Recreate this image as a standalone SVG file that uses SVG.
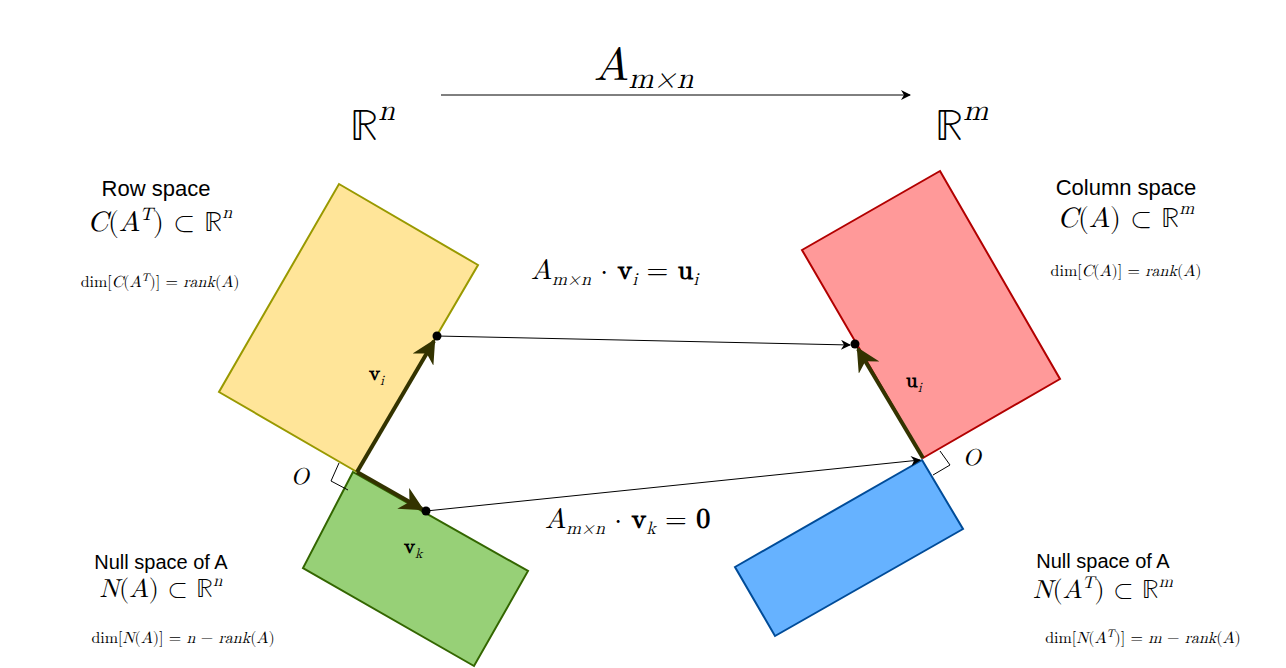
<svg xmlns="http://www.w3.org/2000/svg" width="1286" height="668" viewBox="0 0 1286 668">
<style>
.s{font-family:"Liberation Sans",Arial,sans-serif;fill:#000}
.m{font-family:"Latin Modern Math","DejaVu Serif","Liberation Serif",serif;fill:#000}
.i{font-style:italic}
.b{font-weight:bold}
.c{stroke:#000;stroke-width:1;fill:none}
.v{stroke:#333300;stroke-width:4;fill:none}
</style>
<defs>
<marker id="a" viewBox="0 0 10 10" refX="9" refY="5" markerWidth="12" markerHeight="10" markerUnits="userSpaceOnUse" orient="auto"><path d="M0,0L10,5L0,10L3,5Z" fill="#000"/></marker>
<marker id="t" viewBox="0 0 10 10" refX="9" refY="5" markerWidth="6" markerHeight="6" orient="auto"><path d="M0,0L10,5L0,10L3,5Z" fill="#333300"/></marker>
</defs>
<rect width="1286" height="668" fill="#fff"/>
<g id="rowspace"><polygon points="339,184 478,265 357,472 219,392" fill="#ffe599" stroke="#999900" stroke-width="2"/></g>
<g id="nullA"><polygon points="353,472 528,571 474,666 303,568" fill="#97d077" stroke="#336600" stroke-width="2"/></g>
<g id="colspace"><polygon points="940,171 1060,379 923,458 802,250" fill="#ff9999" stroke="#b20000" stroke-width="2"/></g>
<g id="nullAT"><polygon points="922,460 963,529 775,636 735,567" fill="#66b2ff" stroke="#004c99" stroke-width="2"/></g>
<g id="marks">
<polyline points="339,463 331,481 348,490" class="c"/>
<polyline points="940,451 950,465 933,475" class="c"/>
</g>
<g id="connectors">
<line x1="441" y1="95" x2="910" y2="95" class="c" marker-end="url(#a)"/>
<line x1="437" y1="336" x2="850" y2="345" class="c" marker-end="url(#a)"/>
<line x1="426" y1="511" x2="920" y2="460" class="c" marker-end="url(#a)"/>
<line x1="357" y1="472" x2="434" y2="341" class="v" marker-end="url(#t)"/>
<line x1="357" y1="472" x2="422" y2="509" class="v" marker-end="url(#t)"/>
<line x1="923" y1="458" x2="858" y2="349" class="v" marker-end="url(#t)"/>
<circle cx="437" cy="336" r="4.5"/>
<circle cx="426" cy="511" r="4.5"/>
<circle cx="855" cy="344" r="4.5"/>
</g>
<g id="labels">
<text x="594" y="80" class="m i" font-size="46">A<tspan font-size="30" dy="8">m×n</tspan></text>
<text x="350" y="140" class="m" font-size="44">ℝ<tspan class="i" font-size="30" dy="-20">n</tspan></text>
<text x="935" y="140" class="m" font-size="44">ℝ<tspan class="i" font-size="30" dy="-20">m</tspan></text>
<text x="156" y="196" class="s" font-size="22" text-anchor="middle">Row space</text>
<text x="160" y="231" class="m" font-size="28" text-anchor="middle"><tspan class="i">C</tspan>(<tspan class="i">A</tspan><tspan class="i" font-size="18" dy="-11">T</tspan><tspan dy="11">) ⊂ ℝ</tspan><tspan class="i" font-size="18" dy="-13">n</tspan></text>
<text x="160" y="287" class="m" font-size="16" text-anchor="middle">dim[<tspan class="i">C</tspan>(<tspan class="i">A</tspan><tspan class="i" font-size="11" dy="-6">T</tspan><tspan dy="6">)] = </tspan><tspan class="i">rank</tspan>(<tspan class="i">A</tspan>)</text>
<text x="1126" y="195" class="s" font-size="22" text-anchor="middle">Column space</text>
<text x="1126" y="227" class="m" font-size="28" text-anchor="middle"><tspan class="i">C</tspan>(<tspan class="i">A</tspan>) ⊂ ℝ<tspan class="i" font-size="18" dy="-13">m</tspan></text>
<text x="1126" y="276" class="m" font-size="16" text-anchor="middle">dim[<tspan class="i">C</tspan>(<tspan class="i">A</tspan>)] = <tspan class="i">rank</tspan>(<tspan class="i">A</tspan>)</text>
<text x="531" y="279" class="m" font-size="28"><tspan class="i">A</tspan><tspan class="i" font-size="18" dy="6">m×n</tspan><tspan dy="-6"> · </tspan><tspan class="b">v</tspan><tspan class="i" font-size="18" dy="6">i</tspan><tspan dy="-6"> = </tspan><tspan class="b">u</tspan><tspan class="i" font-size="18" dy="6">i</tspan></text>
<text x="545" y="528" class="m" font-size="28"><tspan class="i">A</tspan><tspan class="i" font-size="18" dy="6">m×n</tspan><tspan dy="-6"> · </tspan><tspan class="b">v</tspan><tspan class="i" font-size="18" dy="6">k</tspan><tspan dy="-6"> = </tspan><tspan class="b">0</tspan></text>
<text x="369" y="380" class="m b" font-size="21">v<tspan class="i" font-size="14" font-weight="normal" dy="5">i</tspan></text>
<text x="404" y="553" class="m b" font-size="21">v<tspan class="i" font-size="14" font-weight="normal" dy="5">k</tspan></text>
<text x="906" y="387" class="m b" font-size="21">u<tspan class="i" font-size="14" font-weight="normal" dy="5">i</tspan></text>
<text x="291" y="484" class="m i" font-size="23">O</text>
<text x="963" y="465" class="m i" font-size="23">O</text>
<text x="161" y="569" class="s" font-size="20" text-anchor="middle">Null space of A</text>
<text x="161" y="597" class="m" font-size="26" text-anchor="middle"><tspan class="i">N</tspan>(<tspan class="i">A</tspan>) ⊂ ℝ<tspan class="i" font-size="17" dy="-11">n</tspan></text>
<text x="183" y="643" class="m" font-size="16" text-anchor="middle">dim[<tspan class="i">N</tspan>(<tspan class="i">A</tspan>)] = <tspan class="i">n</tspan> − <tspan class="i">rank</tspan>(<tspan class="i">A</tspan>)</text>
<text x="1103" y="568" class="s" font-size="20" text-anchor="middle">Null space of A</text>
<text x="1103" y="598" class="m" font-size="26" text-anchor="middle"><tspan class="i">N</tspan>(<tspan class="i">A</tspan><tspan class="i" font-size="17" dy="-10">T</tspan><tspan dy="10">) ⊂ ℝ</tspan><tspan class="i" font-size="17" dy="-11">m</tspan></text>
<text x="1143" y="643" class="m" font-size="16" text-anchor="middle">dim[<tspan class="i">N</tspan>(<tspan class="i">A</tspan><tspan class="i" font-size="11" dy="-6">T</tspan><tspan dy="6">)] = </tspan><tspan class="i">m</tspan> − <tspan class="i">rank</tspan>(<tspan class="i">A</tspan>)</text>
</g>
</svg>
